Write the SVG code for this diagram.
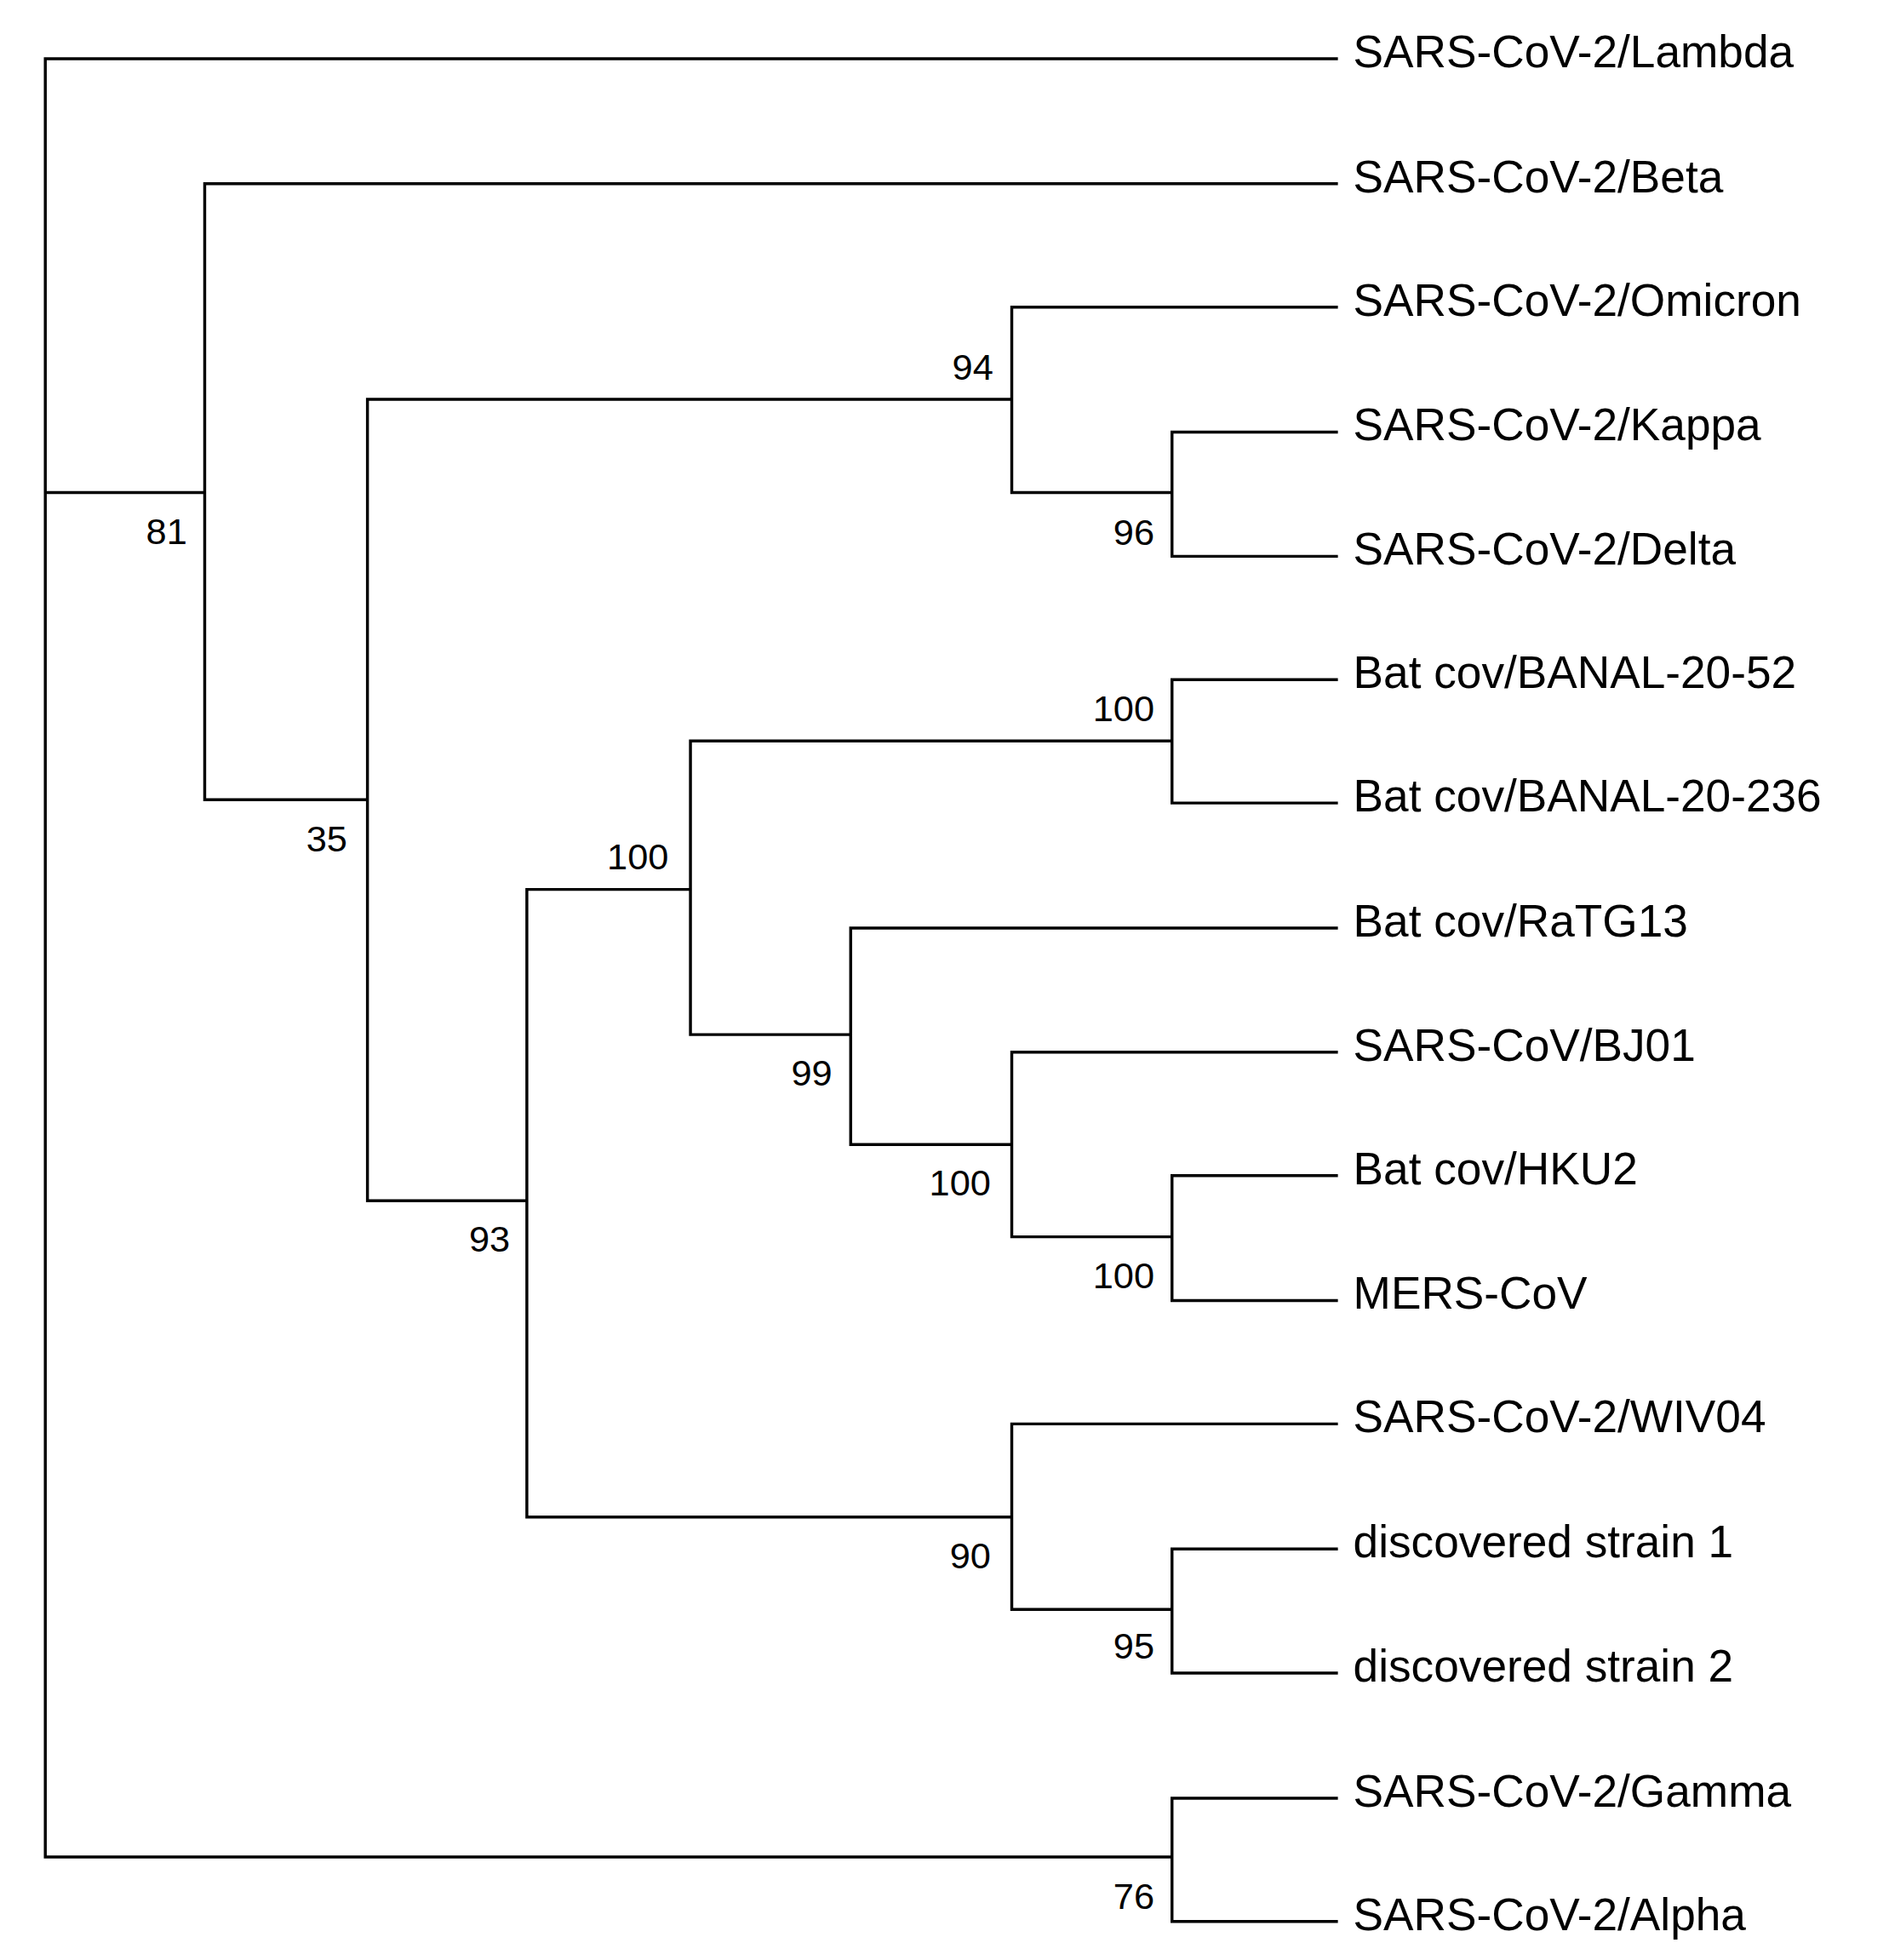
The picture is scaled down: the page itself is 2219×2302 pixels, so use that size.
<svg xmlns="http://www.w3.org/2000/svg" width="2219" height="2302" viewBox="0 0 2219 2302">
<style>
.e{stroke:#000;stroke-width:3.5;fill:none;stroke-linecap:square}
.t{font-family:"Liberation Sans",Arial,sans-serif;font-size:54px;fill:#000}
.b{font-family:"Liberation Sans",Arial,sans-serif;font-size:44px;fill:#000;text-anchor:end}
</style>
<rect width="2219" height="2302" fill="#fff"/>
<g transform="scale(0.9855)">
<g id="connectors">
<path class="e" d="M54,70V2213 M54,587H244 M244,219V953 M244,219H1593 M54,70H1593 M244,953H438 M438,476V1431 M438,476H1206 M1206,366V587 M1206,366H1593 M1206,587H1397 M1397,515V663 M1397,515H1593 M1397,663H1593 M438,1431H628 M628,1060V1808 M628,1060H823 M823,883V1233 M823,883H1397 M1397,810V957 M1397,810H1593 M1397,957H1593 M823,1233H1014 M1014,1106V1364 M1014,1106H1593 M1014,1364H1206 M1206,1254V1474 M1206,1254H1593 M1206,1474H1397 M1397,1401V1550 M1397,1401H1593 M1397,1550H1593 M628,1808H1206 M1206,1697V1918 M1206,1697H1593 M1206,1918H1397 M1397,1846V1994 M1397,1846H1593 M1397,1994H1593 M54,2213H1397 M1397,2143V2290 M1397,2143H1593 M1397,2290H1593"/>
</g>
<g id="tips">
<text class="t" x="1613" y="80">SARS-CoV-2/Lambda</text>
<text class="t" x="1613" y="229">SARS-CoV-2/Beta</text>
<text class="t" x="1613" y="376">SARS-CoV-2/Omicron</text>
<text class="t" x="1613" y="525">SARS-CoV-2/Kappa</text>
<text class="t" x="1613" y="673">SARS-CoV-2/Delta</text>
<text class="t" x="1613" y="820">Bat cov/BANAL-20-52</text>
<text class="t" x="1613" y="967">Bat cov/BANAL-20-236</text>
<text class="t" x="1613" y="1116">Bat cov/RaTG13</text>
<text class="t" x="1613" y="1264">SARS-CoV/BJ01</text>
<text class="t" x="1613" y="1411">Bat cov/HKU2</text>
<text class="t" x="1613" y="1560">MERS-CoV</text>
<text class="t" x="1613" y="1707">SARS-CoV-2/WIV04</text>
<text class="t" x="1613" y="1856">discovered strain 1</text>
<text class="t" x="1613" y="2004">discovered strain 2</text>
<text class="t" x="1613" y="2153">SARS-CoV-2/Gamma</text>
<text class="t" x="1613" y="2300">SARS-CoV-2/Alpha</text>
</g>
<g id="bootstrap">
<text class="b" x="1184" y="453">94</text>
<text class="b" x="223" y="648">81</text>
<text class="b" x="1376" y="649">96</text>
<text class="b" x="1376" y="859">100</text>
<text class="b" x="414" y="1015">35</text>
<text class="b" x="797" y="1036">100</text>
<text class="b" x="992" y="1294">99</text>
<text class="b" x="1181" y="1425">100</text>
<text class="b" x="608" y="1492">93</text>
<text class="b" x="1376" y="1535">100</text>
<text class="b" x="1181" y="1869">90</text>
<text class="b" x="1376" y="1977">95</text>
<text class="b" x="1376" y="2275">76</text>
</g>
</g>
</svg>
